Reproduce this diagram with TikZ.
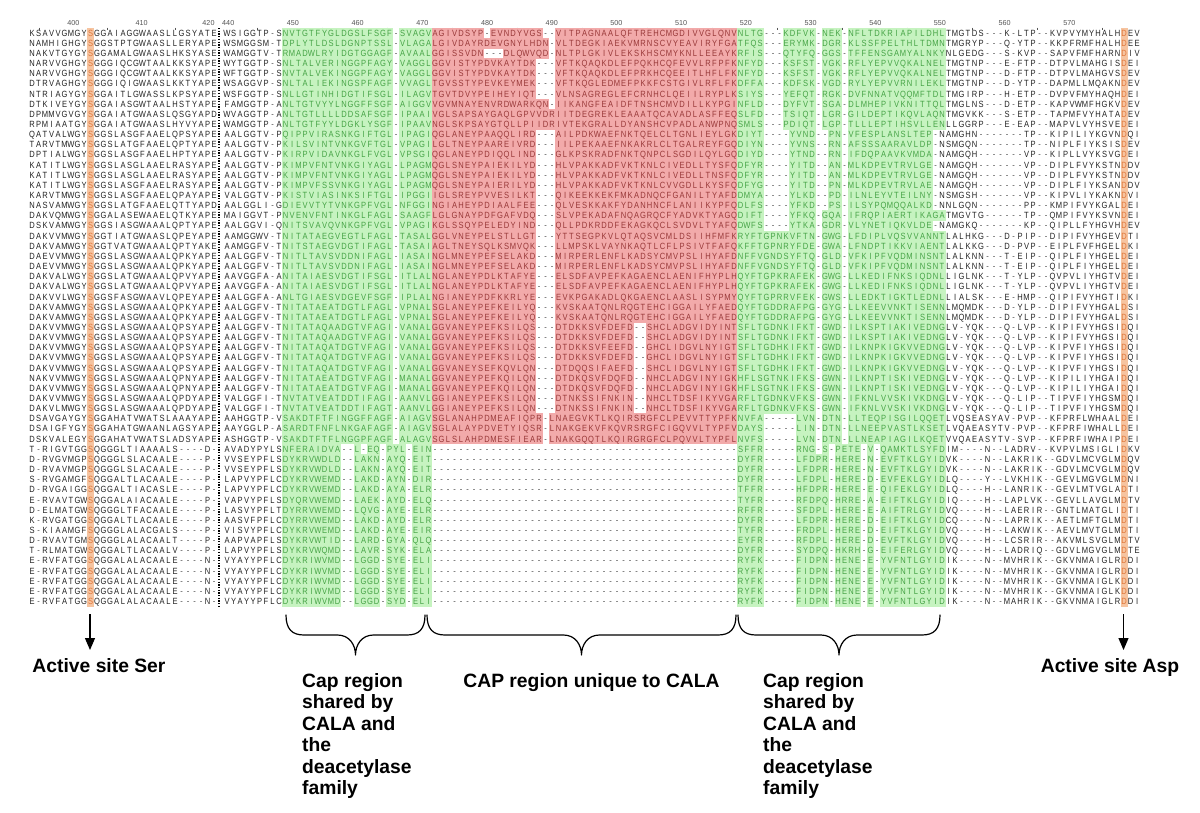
\documentclass[tikz,border=0pt]{standalone}
\usepackage{fontspec}
\setmainfont{Liberation Sans}
\newfontfamily\seqfont[FakeStretch=0.84]{Liberation Sans}
\usetikzlibrary{arrows.meta,calc}
\definecolor{gbg}{HTML}{C6F3C0}
\definecolor{gtx}{HTML}{45A345}
\definecolor{rbg}{HTML}{F2AAAA}
\definecolor{rtx}{HTML}{983838}
\definecolor{obg}{HTML}{F6C4A0}
\definecolor{otx}{HTML}{E0773A}
\definecolor{nbg}{HTML}{FFFFFF}
\definecolor{ntx}{HTML}{222222}
\definecolor{gaptx}{HTML}{505050}
\definecolor{rultx}{HTML}{555555}
\tikzset{
  seg/.style={anchor=base west, inner sep=0pt, outer sep=0pt, font=\seqfont\fontsize{9}{9}\selectfont},
  rul/.style={font=\fontsize{7.2}{8}\selectfont, text=rultx, inner sep=0pt},
  tickmark/.style={draw=rultx, line width=0.6pt},
  lbl/.style={font=\bfseries\fontsize{19.3}{21}\selectfont, inner sep=0pt},
  brc/.style={line width=1.2pt, line cap=round, line join=round},
  arr/.style={line width=1.2pt, -{Triangle[length=12pt,width=10pt]}},
  sepl/.style={line width=1.3pt, dash pattern=on 1.3pt off 1.4pt},
}
\newcount\acol \newcount\bcol \newcount\segnum
\def\clsn{n}
\def\rowY{0}
\newcommand\rowat[1]{\pgfmathsetmacro\rowY{33+(#1-1)*10.15}\global\acol=0\relax}
\newcommand\sepcol{\global\advance\acol by 1\relax}
\def\bgscan#1{\ifx#1\relax\else\bgcell#1\advance\bcol by 1\relax\expandafter\bgscan\fi}
\def\bgcell#1{\if#1-\else\ifx\segcls\clsn\else\fillcell\fi\fi}
\def\fillcell{\fill[fill=\curbg] ({28.5+6.5*\the\bcol},{\rowY-5.35}) rectangle ++(7.1,10.7);}
\def\tboxes#1{\ifx#1\relax\else\tbox#1\expandafter\tboxes\fi}
\def\tbox#1{\makebox[6.5pt]{\if#1-\color{gaptx}\else\color{\curtx}\fi#1}}
\newcommand\aseg[2]{\def\segcls{#1}\edef\curbg{#1bg}\edef\curtx{#1tx}\edef\segstr{#2}\bcol=\acol\relax
  \expandafter\bgscan\segstr\relax
  \global\advance\segnum by 1\relax
  \node[seg] (seg\the\segnum) at ({28.8+6.5*\the\acol},{\rowY+3.1}) {\expandafter\tboxes\segstr\relax};%
  \global\acol=\bcol\relax}
\def\leftpart#1#2#3#4#5#6#7#8#9{\aseg n{#1#2#3#4#5#6#7#8#9}\leftS}
\def\leftS#1#2\relax{\aseg o{#1}\aseg n{#2}}
\newcommand\alrow[9]{\rowat{#1}\leftpart#2\relax\sepcol\aseg n{#3}\aseg g{#4}\aseg r{#5}\aseg g{#6}\aseg n{#7}\aseg o{#8}\aseg n{#9}}
\def\gapT{----------}
\def\gapC{\gapT\gapT\gapT\gapT-------}
\newcommand\capbrace[3]{%
  \coordinate (#3l) at (#1,615);
  \coordinate (#3r) at (#2,615);
  \coordinate (#3t) at ({(#1+#2)/2},655);
  \draw[brc] (#3l) .. controls +(0,14) and +(-12,0) .. ($(#3l)+(18,20)$) -- ($(#3t)+(-18,-20)$) .. controls +(12,0) and +(0,-10) .. (#3t) .. controls +(0,-10) and +(-12,0) .. ($(#3t)+(18,-20)$) -- ($(#3r)+(-18,20)$) .. controls +(12,0) and +(0,14) .. (#3r);}
\begin{document}
\begin{tikzpicture}[x=1pt,y=-1pt]
\fill[white] (0,0) rectangle (1200,812);
\useasboundingbox (0,0) rectangle (1200,812);
% ruler
\foreach \n/\x in {400/73.3,410/141.7,420/208.5} {\node[rul] (rl\n) at (\x,23) {\n};}
\foreach \n in {440,450,...,570} {\node[rul] (rr\n) at ({390+6.47*(\n-465)},23) {\n};}
\foreach \x in {39,107,175} {\draw[tickmark] (\x,27.6) -- ++(0,2.8);}
\foreach \n in {445,455,...,575} {\draw[tickmark] ({387.5+6.5*(\n-465)},27.6) -- ++(0,2.8);}
% alignment rows
\alrow{1}{KSAVVGMGYSGGAIAGGWAASLLGSYATE}{WSIGGTP-S}{NVTGTFYGLDGSLFSGF-SVAGV}{AGIVDSYP-EVNDYVGS--VITPAGNAALQFTREHCMGDIVVGLQNV}{NLTG---KDFVK-NEK-NFLTDKRIAPILDHL}{TMGTDS---K-LTP--KVPVYMYHALH}{D}{EV}
\alrow{2}{NAMHIGHGYSGGSTPTGWAASLLERYAPE}{WSMGGSM-T}{DPLYTLDSLDGNPTSSL-VLAGA}{LGIVDAYRDEVGNYLHDN-VLTDEGKIAEKVMRNSCVYEAVIRYFGA}{TFQS---ERYMK-DGR-KLSSFPELTHLTDMN}{TMGRYP---Q-YTP--KKPFRMFHALH}{D}{EE}
\alrow{3}{NAKVTGYGYSGGAMALGWAASLHKSYASE}{WAMGGTV-T}{RMADWLRYIDGTGGAGF-AVAAL}{GGISSVDN---DLQWVQD-NLTPLGKIVLEKSKHSCMYKNLLEEAYK}{RFIS---QTYFQ-GGS-TFFENSGAMYALNKY}{NLGEDG---S-KVP--SAPVFMFHARN}{D}{IV}
\alrow{4}{NARVVGHGYSGGGIQCGWTAALKKSYAPE}{WYTGGTP-S}{NLTALVERINGGPFAGY-VAGGL}{GGVISTYPDVKAYTDK---VFTKQAQKDLEFPQKHCQFEVVLRFPFK}{NFYD---KSFST-VGK-RFLYEPVVQKALNEL}{TMGTNP---E-FTP--DTPVLMAHGIS}{D}{EI}
\alrow{5}{NARVVGHGYSGGGIQCGWTAALKKSYAPE}{WFTGGTP-S}{NVTALVEKINGGPFAGY-VAGGL}{GGVISTYPDVKAYTDK---VFTKQAQKDLEFPRKHCQEEITLHFLFK}{NFYD---KSFST-VGK-RFLYEPVVQKALNEL}{TMGTNP---D-FTP--DTPVLMAHGVS}{D}{EV}
\alrow{6}{DTRVAGHGYSGGGIQIGWAASLKKTYAPE}{WSAGGVP-S}{NLTALIEKINGSPFAGF-VVAGL}{TGVSSTYPEVKEYMEK---VFTKQGLEDMEFPKKFCSTGIVLRFLFK}{DFFA---KDFSK-VGD-RYLYEPVVRNILEKL}{TMGTNP---D-YTP--DAPMLLMQAKN}{D}{EV}
\alrow{7}{NTRIAGYGYSGGAITLGWASSLKPSYAPE}{WSFGGTP-S}{NLLGTINHIDGTIFSGL-ILAGV}{TGVTDVYPEIHEYIQT---VLNSAGREGLEFCRNHCLQEIILRYPLK}{SIYS---YEFQT-RGK-DVFNNATVQQMFTDL}{TMGIRP---H-ETP--DVPVFMYHAQH}{D}{EI}
\alrow{8}{DTKIVEYGYSGGAIASGWTAALHSTYAPE}{FAMGGTP-A}{NLTGTVYYLNGGFFSGF-AIGGV}{VGVMNAYENVRDWARKQN-IIKANGFEAIDFTNSHCMVDILLKYPGI}{NFLD---DYFVT-SGA-DLMHEPIVKNITTQL}{TMGLNS---D-ETP--KAPVWMFHGKV}{D}{EV}
\alrow{9}{DPMMVGVGYSGGAIATGWAASLQSGYAPD}{WVAGGTP-A}{NLTGTLLLLDDSAFSGF-IPAAI}{VGLSAPSAYGAQLGPVVDRIITDEGREKLEAAATQCAVADLASFFEQ}{SLFD---TSIQT-LGR-GILDEPTIKQVLAQN}{TMGVKK---S-ETP--TAPMFVYHATA}{D}{EV}
\alrow{10}{RPMIAATGYSGGAIATGWAASLHYVYAPE}{WAMGGTP-A}{NLTGTFYYLDGKLYSGF-IPAAV}{NGLSKPSAYGTQLLPIIDRIVTEKGRALLDYANSHCVPADLANWPNQ}{SMLS---PDIQT-LGP-TLLLEPTIHSVLLEN}{LLGGRP---E-EAP--MAPVLVYHSVE}{D}{EI}
\alrow{11}{QATVALWGYSGGSLASGFAAELQPSYAPE}{AALGGTV-P}{QIPPVIRASNKGIFTGL-IPAGI}{QGLANEYPAAQQLIRD---AILPDKWAEFNKTQELCLTGNLIEYLGK}{DIYT----YVND--PN-VFESPLANSLTEP-}{NAMGHN-------TP--KIPILIYKGVN}{D}{QI}
\alrow{12}{TARVTMWGYSGGSLATGFAAELQPTYAPE}{AALGGTV-P}{KILSVINTVNKGVFTGL-VPAGI}{LGLTNEYPAAREIVRD---IILPEKAAEFNKAKRLCLTGALREYFGQ}{DIYN----YVNS--RN-AFSSSAARAVLDP-}{NSMGQN-------TP--NIPLFIYKSIS}{D}{EV}
\alrow{13}{DPTIALWGYSGGSLASGFAAELHPTYAPE}{AALGGTV-P}{KIRPVIDAVNKGLFVGL-VPSGI}{QGLANEYPDIQQLIND---GLKPSKRADFNKTQNPCLSGDILQYLGQ}{DIYD----YTND--RN-IFDQPAAVKVMDA-}{NAMGQH-------VP--KIPLLVYKSVG}{D}{EI}
\alrow{14}{KATITLWGYSGGSLASGLAAELRASYAPE}{AALGGTV-P}{KIMPVFNTVNKGIYAGL-LPAGM}{QGLSNEYPAIEKILYD---HLVPAKKADFVKTKNLCIVEDLLTYSFQ}{DFYR----YITD--AN-MLKDPEVTRVLGE-}{NAMGQH-------VP--DIPLFVYKSTN}{D}{DV}
\alrow{15}{KATITLWGYSGGSLASGLAAELRASYAPE}{AALGGTV-P}{KIMPVFNTVNKGIYAGL-LPAGM}{QGLSNEYPAIEKILYD---HLVPAKKADFVKTKNLCIVEDLLTNSFQ}{DFYR----YITD--AN-MLKDPEVTRVLGE-}{NAMGQH-------VP--DIPLFVYKSTN}{D}{DV}
\alrow{16}{KATITLWGYSGGSLASGFAAELRASYAPE}{AALGGTV-P}{KIMPVFSSVNKGIYAGL-LPAGM}{QGLSNEYPAIERILYD---HLVPAKKADFVKTKNLCVVGDLLKYSFQ}{DFYG----YITD--PN-MLKDPEVTRVLAE-}{NAMGQH-------VP--DIPLFIYKSAN}{D}{DV}
\alrow{17}{KARVTMWGYSGGSLASGFAAELQPAYAPE}{VALGGTV-P}{KISTVIASINKSIFTGL-IPGGI}{IGLSREYPVVESILKT---QIKEEKKEKFMKADNQCFGANILTYAFD}{DMYA----YLKD--PD-ILNLEYVTEILNY-}{NSMGSH-------VP--KIPVLIYKAKN}{D}{VI}
\alrow{18}{NASVAMWGYSGGSLATGFAAELQTTYAPD}{AALGGLI-G}{DIEVVTYTVNKGPFVGL-NFGGI}{NGIAHEYPDIAALFEE---QLVESKKAKFYDANHNCFLANIIKYPFQ}{DLFS----YFKD--PS-ILSYPQMQQALKD-}{NNLGQN-------PP--KMPIFVYKGAL}{D}{EI}
\alrow{19}{DAKVQMWGYSGGALASEWAAELQTKYAPE}{MAIGGVT-P}{NVENVFNTINKGLFAGL-SAAGF}{LGLGNAYPDFGAFVDQ---SLVPEKADAFNQAGRQCFYADVKTYAGQ}{DIFT----YFKQ-GQA-IFRQPIAERTIKAGA}{TMGVTG------TP--QMPIFVYKSVN}{D}{EI}
\alrow{20}{DSKVAMWGYSGGSIASGWAAALQPTYAPE}{AALGGVI-Q}{NITSVAVQVNKGPFVGL-VPAGI}{KGLSSQYPELEDYIND---QLLPDKRDDFEKAGKQCLSVDVLTYAFQ}{DWFS----YTKA-GDR-VLYNETIQKVLDE-}{NAMGKQ-------KP--QIPLLFYHGVH}{D}{EV}
\alrow{21}{DAKVVMWGYSGGTIATGWAASLQPEYAPE}{AAMGGWV-T}{NITATAEGVEGTLFAGL-TASAL}{GGLVNEYPELSTLLGT---YTTSEGPKVLQTAQSVCMLDSIIHFMFK}{RYFTGPNKVFTN-GWG-LFDIPLVQSVVANNT}{LALHKG---D-PIP--DIPIFVYHGEV}{D}{TI}
\alrow{22}{DAKVAMWGYSGGTVATGWAAALQPTYAKE}{AAMGGFV-T}{NITSTAEGVDGTIFAGL-TASAI}{AGLTNEYSQLKSMVQK---LLMPSKLVAYNKAQTLCFLPSIVTFAFQ}{KFFTGPNRYFDE-GWA-LFNDPTIKKVIAENT}{LALKKG---D-PVP--EIPLFVFHGEL}{D}{KI}
\alrow{23}{DAEVVMWGYSGGSLASGWAAALQPKYAPE}{AALGGFV-T}{NITLTAVSVDDNIFAGL-IASAI}{NGLMNEYPEFSELAKD---MIRPERLENFLKADSYCMVPSLIHYAFD}{NFFVGNDSYFTQ-GLD-VFKIPFVQDMINSNT}{LALKNN---T-EIP--QIPLFIYHGEL}{D}{EI}
\alrow{24}{DAEVVMWGYSGGSLASGWAAALQPKYAPE}{AALGGFV-T}{NITLTAVSVDDNIFAGL-IASAI}{NGLMNEYPEFSELAKD---MIRPERLENFLKADSYCMVPSLIHYAFD}{NFFVGNDSYFTQ-GLD-VFKIPFVQDMINSNT}{LALKNN---T-EIP--QIPLFIYHGEL}{D}{EI}
\alrow{25}{DAKVALWGYSGGSLATGWAAALQPVYAPE}{AAVGGFA-A}{NITAIAESVDGTIFSGL-ITLAL}{NGLANEYPDLKTAFYE---ELSDFAVPEFKAGAENCLAENIFHYPLH}{QYFTGPKRAFEK-GWG-LLKEDIFNKSIQDNL}{LIGLNK---T-YLP--QVPVLIYHGTV}{D}{EI}
\alrow{26}{DAKVALWGYSGGSLATGWAAALQPVYAPE}{AAVGGFA-A}{NITAIAESVDGTIFSGL-ITLAL}{NGLANEYPDLKTAFYE---ELSDFAVPEFKAGAENCLAENIFHYPLH}{QYFTGPKRAFEK-GWG-LLKEDIFNKSIQDNL}{LIGLNK---T-YLP--QVPVLIYHGTV}{D}{EI}
\alrow{27}{DAKVVLWGYSGGSFASGWAAVLQPEYAPE}{AALGGFA-A}{NLTGIAESVDGEVFSGF-IPLAL}{NGIANEYPDFKKRLYE---EVKPGAKADLQKGAENCLAASLISYPMY}{QYFTGPRRVFEK-GWS-LLEDKTIGKTLEDNL}{LIALSK---E-HMP--QIPIFVYHGTI}{D}{KI}
\alrow{28}{DAKVAMWGYSGGSLASGWAAALQPKYAPE}{AALGGFV-T}{NITATAEATDGTLFAGL-VPNAL}{SGLANEYPEFKEILYQ---KVSKAATQNLRQGTEHCIGGAILYFAED}{QYFTGDDRAFPG-GYG-LLKEEVVNKTISENN}{LMQMDK---D-YLP--DIPIFVYHGAL}{D}{SI}
\alrow{29}{DAKVAMWGYSGGSLASGWAAALQPKYAPE}{AALGGFV-T}{NITATAEATDGTLFAGL-VPNAL}{SGLANEYPEFKEILYQ---KVSKAATQNLRQGTEHCIGGAILYFAED}{QYFTGDDRAFPG-GYG-LLKEEVVNKTISENN}{LMQMDK---D-YLP--DIPIFVYHGAL}{D}{SI}
\alrow{30}{DAKVVMWGYSGGSLASGWAAALQPSYAPE}{AALGGFV-T}{NITATAQAADGTVFAGI-VANAL}{GGVANEYPEFKSILQS---DTDKKSVFDEFD--SHCLADGVIDYINT}{SFLTGDNKIFKT-GWD-ILKSPTIAKIVEDNG}{LV-YQK---Q-LVP--KIPIFVYHGSI}{D}{QI}
\alrow{31}{DAKVVMWGYSGGSLASGWAAALQPSYAPE}{AALGGFV-T}{NITATAQAADGTVFAGI-VANAL}{GGVANEYPEFKSILQS---DTDKKSVFDEFD--SHCLADGVIDYINT}{SFLTGDNKIFKT-GWD-ILKSPTIAKIVEDNG}{LV-YQK---Q-LVP--KIPIFVYHGSI}{D}{QI}
\alrow{32}{DAKVVMWGYSGGSLASGWAAALQPSYAPE}{AALGGFV-T}{NITATAQATDGTVFAGI-VANAL}{GGVANEYPEFKSILQS---DTDKKSVFEEFD--GHCLIDGVLNYIGT}{SFLTGDHKIFKT-GWD-ILKNPKIGKVVEDNG}{LV-YQK---Q-LVP--KIPVFIYHGSI}{D}{QI}
\alrow{33}{DAKVVMWGYSGGSLASGWAAALQPSYAPE}{AALGGFV-T}{NITATAQATDGTVFAGI-VANAL}{GGVANEYPEFKSILQS---DTDKKSVFDEFD--GHCLIDGVLNYIGT}{SFLTGDHKIFKT-GWD-ILKNPKIGKVVEDNG}{LV-YQK---Q-LVP--KIPVFIYHGSI}{D}{QI}
\alrow{34}{DAKVVMWGYSGGSLASGWAAALQPSYAPE}{AALGGFV-T}{NITATAQATDGTVFAGI-VANAL}{GGVANEYSEFKQVLQN---DTDQQSIFAEFD--SHCLIDGVLNYIGT}{SFLTGDHKIFKT-GWD-ILKNPKIGKVVEDNG}{LV-YQK---Q-LVP--KIPVFIYHGSI}{D}{QI}
\alrow{35}{NAKVVMWGYSGGSLASGWAAALQPNYAPE}{AALGGFV-T}{NITATAEATDGTVFAGI-MANAL}{GGVANEYPEFKQILQN---DTDKQSVFDQFD--NHCLADGVINYIGK}{HFLSGTNKIFKS-GWN-ILKNPTISKIVEDNG}{LV-YQK---Q-LVP--KIPILIYHGAI}{D}{QI}
\alrow{36}{DAKVVMWGYSGGSLASGWAAALQPNYAPE}{AALGGFV-T}{NITATAEATDGTVFAGI-MANAL}{GGVANEYPEFKQILQN---DTDKQSVFDQFD--NHCLADGVINYIGK}{HFLSGTNKIFKS-GWN-ILKNPTISKIVEDNG}{LV-YQK---Q-LVP--KIPILIYHGAI}{D}{QI}
\alrow{37}{DAKVVMWGYSGGSLASGWAAALQPDYAPE}{VALGGFI-T}{NVTATVEATDDTIFAGI-AANVL}{GGIANEYPEFKSILQN---DTNKSSIFNKIN--NHCLTDSFIKYVGA}{RFLTGDNKVFKS-GWN-IFKNLVVSKIVKDNG}{LV-YQK---Q-LIP--TIPVFIYHGSM}{D}{QI}
\alrow{38}{DAKVLMWGYSGGSLASGWAAALQPDYAPE}{VALGGFI-T}{NVTATVEATDDTIFAGT-AANVL}{GGIANEYPEFKSILQN---DTNKSSIFNKIN--NHCLTDSFIKYVGA}{RFLTGDNKVFKS-GWN-IFKNLVVSKIVKDNG}{LV-YQK---Q-LIP--TIPVFIYHGSM}{D}{QI}
\alrow{39}{DSAVGAYGYSGGAHATVWATSLAAAYAPE}{AAHGGTP-V}{SAKDTFTFINGGFFAGF-AIAGV}{SGLANAHPDMEAFIQPR-LNAEGVKTLKQIRSRGFCLPEVVTTYPFK}{NVFA-----LVN-DTN-LLTEQPISGILQQET}{LVQSEASYAV-PVP--KFPRFLWHAAL}{D}{EI}
\alrow{40}{DSAIGFYGYSGGAHATGWAANLAGSYAPE}{AAYGGLP-A}{SARDTFNFLNKGAFAGF-AIAGV}{SGLALAYPDVETYIQSR-LNAKGEKVFKQVRSRGFCIGQVVLTYPFV}{DAYS-----LIN-DTN-LLNEEPVASTLKSET}{LVQAEASYTV-PVP--KFPRFIWHALL}{D}{EI}
\alrow{41}{DSKVALEGYSGGAHATVWATSLADSYAPE}{ASHGGTP-V}{SAKDTFTFLNGGPFAGF-ALAGV}{SGLSLAHPDMESFIEAR-LNAKGQQTLKQIRGRGFCLPQVVLTYPFL}{NVFS-----LVN-DTN-LLNEAPIAGILKQET}{VVQAEASYTV-SVP--KFPRFIWHAIP}{D}{EI}
\alrow{42}{T-RIGVTGGSQGGGLTIAAAALS----D-}{AVADYPYLS}{NFERAIDVA--L-EQ-PYL-EIN}{\gapC}{SFFR-----RNG-S-PETE-V-QAMKTLSYFD}{IM----N--LADRV--KVPVLMSIGLI}{D}{KV}
\alrow{43}{D-RVGVMGPSQGGGLSLACAALE----P-}{VVSEYPFLS}{DYKRVWDLD--LAKN-AYQ-EIT}{\gapC}{DYFR-----LFDPR-HERE-N-EVFTKLGYID}{VK----N--LAKRIK--GDVLMCVGLM}{D}{QV}
\alrow{44}{D-RVAVMGPSQGGGLSLACAALE----P-}{VVSEYPFLS}{DYKRVWDLD--LAKN-AYQ-EIT}{\gapC}{DYFR-----LFDPR-HERE-N-EVFTKLGYID}{VK----N--LAKRIK--GDVLMCVGLM}{D}{QV}
\alrow{45}{S-RVGAMGFSQGGALTLACAALE----P-}{LAPVYPFLC}{DYKRVWEMD--LAKD-AYN-DIR}{\gapC}{DYFR-----LFDPL-HERE-D-EVFEKLGYID}{LQ----Y--LVKHIK--GEVLMGVGLM}{D}{NI}
\alrow{46}{D-RVGAIGGSQGGALTIACASLE----P-}{LAPVYPFLC}{DYKRVWEMD--LAKD-AYA-ELR}{\gapC}{TFFR-----HFDPR-HERE-E-QIFEKLGYID}{LQ----H--LANRIK--GEVLMTVGLA}{D}{TI}
\alrow{47}{E-RVAVTGWSQGGALAIACAALE----P-}{VAPVYPFLS}{DYQRVWEMD--LAEK-AYD-ELQ}{\gapC}{TYFR-----RFDPQ-HRRE-A-EIFTKLGYID}{IQ----H--LAPLVK--GEVLLAVGLM}{D}{TV}
\alrow{48}{D-ELMATGWSQGGGLTFACAALE----P-}{LASVYPFLT}{DYRRVWEMD--LQVG-AYE-ELR}{\gapC}{RFFR-----SFDPL-HERE-E-AIFTRLGYID}{VQ----H--LAERIR--GNTLMATGLI}{D}{TI}
\alrow{49}{K-RVGATGGSQGGALTLACAALE----P-}{AASVFPFLC}{DYRRVWEMD--LAKD-AYD-ELR}{\gapC}{DYFR-----LFDPR-HERE-D-EIFTKLGYID}{CQ----N--LAPRIK--AETLMFTGLM}{D}{TI}
\alrow{50}{S-KIAAMGFSQGGGLALACGALS----P-}{VISVYPFLC}{DYKRVWEMD--LAKD-AYE-EIR}{\gapC}{TYFR-----FRDPL-HERE-D-EIFTKLGYID}{VQ----H--LAKWIK--AEVLMVTGLM}{D}{TI}
\alrow{51}{D-RVAVTGMSQGGGLALACAALT----P-}{AAPVAPFLS}{DYKRVWTID--LARD-GYA-QLQ}{\gapC}{EYFR-----RFDPL-HERE-D-EVFTKLGYID}{VQ----H--LCSRIR--AKVMLSVGLM}{D}{TV}
\alrow{52}{T-RLMATGWSQGGALTLACAALV----P-}{LAPVYPFLS}{DYKRVWQMD--LAVR-SYK-ELA}{\gapC}{DYFR-----SYDPQ-HKRH-G-EIFERLGYID}{VQ----H--LADRIQ--GDVLMGVGLM}{D}{TE}
\alrow{53}{E-RVFATGGSQGGALALACAALE----N-}{VYAYYPFLC}{DYKRIWVMD--LGGD-SYE-ELI}{\gapC}{RYFK-----FIDPN-HENE-E-YVFNTLGYID}{IK----N--MVHRIK--GKVNMAIGLR}{D}{DI}
\alrow{54}{E-RVFATGGSQGGALALACAALE----N-}{VYAYYPFLC}{DYKRIWVMD--LGGD-SYE-ELI}{\gapC}{RYFK-----FIDPN-HENE-E-YVFNTLGYID}{IK----N--MVHRIK--GKVNMAIGLR}{D}{DI}
\alrow{55}{E-RVFATGGSQGGALALACAALE----N-}{VYAYYPFLC}{DYKRIWVMD--LGGD-SYE-ELI}{\gapC}{RYFK-----FIDPN-HENE-E-YVFNTLGYID}{IK----N--MVHRIK--GKVNMAIGLK}{D}{DI}
\alrow{56}{E-RVFATGGSQGGALALACAALE----N-}{VYAYYPFLC}{DYKRIWVMD--LGGD-SYE-ELI}{\gapC}{RYFK-----FIDPN-HENE-E-YVFNTLGYID}{IK----N--MVHRIK--GKVNMAIGLK}{D}{DI}
\alrow{57}{E-RVFATGGSQGGALALACAALE----N-}{VYAYYPFLC}{DYKRIWVMD--LGGD-SYD-ELI}{\gapC}{RYFK-----FIDPN-HENE-E-YVFNTLGYID}{IK----N--MAHRIK--GKVNMAIGLR}{D}{DI}
% separator
\coordinate (sepTop) at (219,28);
\coordinate (sepBot) at (219,606);
\draw[sepl] (sepTop) -- (sepBot);
% active site arrows
\coordinate (serTop) at (90,614);
\coordinate (serTip) at (90,650);
\draw[arr] (serTop) -- (serTip);
\node[lbl, anchor=base] (serLbl) at (99,672) {Active site Ser};
\coordinate (aspTop) at (1123.5,614);
\coordinate (aspTip) at (1123.5,650);
\draw[arr] (aspTop) -- (aspTip);
\node[lbl, anchor=base] (aspLbl) at (1110,672) {Active site Asp};
% braces
\capbrace{286}{425}{bA}
\capbrace{427}{736}{bB}
\capbrace{738}{940}{bC}
\node[lbl, anchor=base] (uniq) at (591.5,687) {CAP region unique to CALA};
\foreach \t [count=\k from 0] in {Cap region, shared by, CALA and, the, deacetylase, family} {
  \node[lbl, anchor=base west] (capA\k) at (302,{687+21.5*\k}) {\t};
  \node[lbl, anchor=base west] (capC\k) at (763,{687+21.5*\k}) {\t};
}
\end{tikzpicture}
\end{document}
